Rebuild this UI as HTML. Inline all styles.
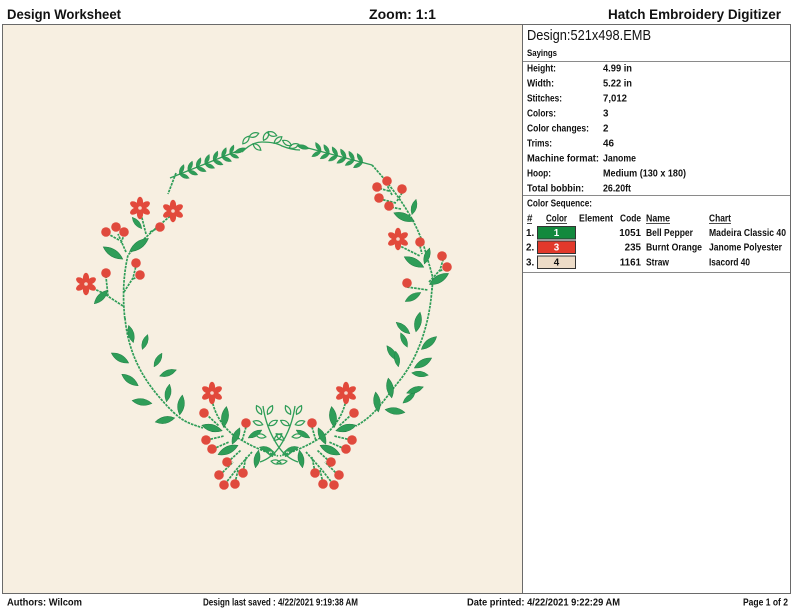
<!DOCTYPE html>
<html><head><meta charset="utf-8"><style>
html,body{margin:0;padding:0;background:#fff;width:794px;height:614px;overflow:hidden}
svg{display:block}
text{font-family:"Liberation Sans",Arial,sans-serif;fill:#111}
.b{font-weight:bold}
.s{font-size:9.8px;font-weight:bold}
.st{fill:none;stroke:#2f9d58;stroke-width:1.7;stroke-dasharray:2.6 1}
.ss{fill:none;stroke:#2f9d58;stroke-width:1.3}
</style></head><body>
<svg width="794" height="614" viewBox="0 0 794 614" xmlns="http://www.w3.org/2000/svg" xmlns:xlink="http://www.w3.org/1999/xlink">
<defs>
<path id="lf" d="M-10,0 Q0,-6.6 10,0 Q0,6.6 -10,0Z" fill="#2f9d58" stroke="#1f8045" stroke-width="0.5"/>
<path id="ol" d="M-5,0 Q0,-4.2 5,0 Q0,4.2 -5,0Z" fill="none" stroke="#2f9d58" stroke-width="1.2"/>
<g id="fl">
<ellipse cx="0" cy="-6" rx="3.1" ry="5.2" fill="#e2493b"/>
<ellipse cx="0" cy="-6" rx="3.1" ry="5.2" fill="#e2493b" transform="rotate(60)"/>
<ellipse cx="0" cy="-6" rx="3.1" ry="5.2" fill="#e2493b" transform="rotate(120)"/>
<ellipse cx="0" cy="-6" rx="3.1" ry="5.2" fill="#e2493b" transform="rotate(180)"/>
<ellipse cx="0" cy="-6" rx="3.1" ry="5.2" fill="#e2493b" transform="rotate(240)"/>
<ellipse cx="0" cy="-6" rx="3.1" ry="5.2" fill="#e2493b" transform="rotate(300)"/>
<circle r="1.8" fill="#f6d8cc"/>
</g>
<circle id="br" r="4.8" fill="#e04a3d"/>
</defs>

<!-- header -->
<text x="7" y="19" class="b" font-size="13.5" textLength="114" lengthAdjust="spacingAndGlyphs">Design Worksheet</text>
<text x="369" y="19" class="b" font-size="13.5" textLength="67" lengthAdjust="spacingAndGlyphs">Zoom:  1:1</text>
<text x="608" y="19" class="b" font-size="13.5" textLength="173" lengthAdjust="spacingAndGlyphs">Hatch Embroidery Digitizer</text>

<!-- frame -->
<rect x="3" y="25" width="519.5" height="568.5" fill="#f7efe1"/>
<rect x="2.5" y="24.5" width="788" height="569" fill="none" stroke="#6a6a6a" stroke-width="1"/>
<line x1="522.5" y1="24" x2="522.5" y2="594" stroke="#6a6a6a" stroke-width="1"/>
<line x1="523" y1="61.5" x2="790" y2="61.5" stroke="#8a8a8a" stroke-width="1"/>
<line x1="523" y1="195.5" x2="790" y2="195.5" stroke="#8a8a8a" stroke-width="1"/>
<line x1="523" y1="272.5" x2="790" y2="272.5" stroke="#8a8a8a" stroke-width="1"/>

<!-- right panel -->
<text x="527" y="40" font-size="14.5" textLength="124" lengthAdjust="spacingAndGlyphs">Design:521x498.EMB</text>
<text x="527" y="56" class="b" font-size="9.5" textLength="30" lengthAdjust="spacingAndGlyphs">Sayings</text>

<text x="527" y="71.5" class="s" textLength="29" lengthAdjust="spacingAndGlyphs">Height:</text>
<text x="527" y="86.5" class="s" textLength="27" lengthAdjust="spacingAndGlyphs">Width:</text>
<text x="527" y="101.5" class="s" textLength="35" lengthAdjust="spacingAndGlyphs">Stitches:</text>
<text x="527" y="116.5" class="s" textLength="29" lengthAdjust="spacingAndGlyphs">Colors:</text>
<text x="527" y="131.5" class="s" textLength="62" lengthAdjust="spacingAndGlyphs">Color changes:</text>
<text x="527" y="146.5" class="s" textLength="25" lengthAdjust="spacingAndGlyphs">Trims:</text>
<text x="527" y="161.5" class="s" textLength="72" lengthAdjust="spacingAndGlyphs">Machine format:</text>
<text x="527" y="176.5" class="s" textLength="24" lengthAdjust="spacingAndGlyphs">Hoop:</text>
<text x="527" y="191.5" class="s" textLength="57" lengthAdjust="spacingAndGlyphs">Total bobbin:</text>

<text x="603" y="71.5" class="s" textLength="29" lengthAdjust="spacingAndGlyphs">4.99 in</text>
<text x="603" y="86.5" class="s" textLength="29" lengthAdjust="spacingAndGlyphs">5.22 in</text>
<text x="603" y="101.5" class="s" textLength="24" lengthAdjust="spacingAndGlyphs">7,012</text>
<text x="603" y="116.5" class="s">3</text>
<text x="603" y="131.5" class="s">2</text>
<text x="603" y="146.5" class="s" textLength="11" lengthAdjust="spacingAndGlyphs">46</text>
<text x="603" y="161.5" class="s" textLength="33" lengthAdjust="spacingAndGlyphs">Janome</text>
<text x="603" y="176.5" class="s" textLength="83" lengthAdjust="spacingAndGlyphs">Medium (130 x 180)</text>
<text x="603" y="191.5" class="s" textLength="28" lengthAdjust="spacingAndGlyphs">26.20ft</text>

<text x="527" y="206.5" class="s" textLength="65" lengthAdjust="spacingAndGlyphs">Color Sequence:</text>
<text x="527" y="221.5" class="s">#</text>
<text x="546" y="221.5" class="s" textLength="21" lengthAdjust="spacingAndGlyphs">Color</text>
<text x="579" y="221.5" class="s" textLength="34" lengthAdjust="spacingAndGlyphs">Element</text>
<text x="620" y="221.5" class="s" textLength="21" lengthAdjust="spacingAndGlyphs">Code</text>
<text x="646" y="221.5" class="s" textLength="24" lengthAdjust="spacingAndGlyphs">Name</text>
<text x="709" y="221.5" class="s" textLength="22" lengthAdjust="spacingAndGlyphs">Chart</text>
<g stroke="#111" stroke-width="0.8">
<line x1="527" y1="223.5" x2="532" y2="223.5"/>
<line x1="546" y1="223.5" x2="567" y2="223.5"/>
<line x1="646" y1="223.5" x2="670" y2="223.5"/>
<line x1="709" y1="223.5" x2="731" y2="223.5"/>
</g>

<!-- color rows -->
<rect x="537.5" y="226.5" width="38" height="12.5" fill="#12893d" stroke="#333" stroke-width="1"/>
<rect x="537.5" y="241" width="38" height="12.5" fill="#e2392b" stroke="#333" stroke-width="1"/>
<rect x="537.5" y="256" width="38" height="12.5" fill="#eddcc8" stroke="#333" stroke-width="1"/>
<text x="556.5" y="236" class="s" text-anchor="middle" style="fill:#fff">1</text>
<text x="556.5" y="250.5" class="s" text-anchor="middle" style="fill:#fff">3</text>
<text x="556.5" y="265.5" class="s" text-anchor="middle">4</text>

<text x="526" y="236" class="s">1.</text>
<text x="526" y="250.5" class="s">2.</text>
<text x="526" y="265.5" class="s">3.</text>
<text x="641" y="236" class="s" text-anchor="end">1051</text>
<text x="641" y="250.5" class="s" text-anchor="end">235</text>
<text x="641" y="265.5" class="s" text-anchor="end">1161</text>
<text x="646" y="236" class="s" textLength="47" lengthAdjust="spacingAndGlyphs">Bell Pepper</text>
<text x="646" y="250.5" class="s" textLength="56" lengthAdjust="spacingAndGlyphs">Burnt Orange</text>
<text x="646" y="265.5" class="s" textLength="23" lengthAdjust="spacingAndGlyphs">Straw</text>
<text x="709" y="236" class="s" textLength="77" lengthAdjust="spacingAndGlyphs">Madeira Classic 40</text>
<text x="709" y="250.5" class="s" textLength="73" lengthAdjust="spacingAndGlyphs">Janome Polyester</text>
<text x="709" y="265.5" class="s" textLength="41" lengthAdjust="spacingAndGlyphs">Isacord 40</text>

<!-- footer -->
<text x="7" y="605.5" class="s" textLength="75" lengthAdjust="spacingAndGlyphs">Authors: Wilcom</text>
<text x="203" y="605.5" class="s" textLength="155" lengthAdjust="spacingAndGlyphs">Design last saved : 4/22/2021 9:19:38 AM</text>
<text x="467" y="605.5" class="s" textLength="153" lengthAdjust="spacingAndGlyphs">Date printed: 4/22/2021 9:22:29 AM</text>
<text x="743" y="605.5" class="s" textLength="45" lengthAdjust="spacingAndGlyphs">Page 1 of 2</text>

<!-- ===== WREATH ===== -->
<!-- left fern -->
<line x1="170" y1="178" x2="236" y2="151.5" stroke="#2f9d58" stroke-width="1.3"/>
<g>
<use href="#lf" transform="translate(181.7,169.5) rotate(-66.8) scale(0.55,0.6)"/>
<use href="#lf" transform="translate(184.3,176.1) rotate(23.2) scale(0.55,0.6)"/>
<use href="#lf" transform="translate(190.2,166.1) rotate(-66.8) scale(0.55,0.6)"/>
<use href="#lf" transform="translate(192.8,172.7) rotate(23.2) scale(0.55,0.6)"/>
<use href="#lf" transform="translate(198.6,162.7) rotate(-66.8) scale(0.55,0.6)"/>
<use href="#lf" transform="translate(201.2,169.3) rotate(23.2) scale(0.55,0.6)"/>
<use href="#lf" transform="translate(207.1,159.4) rotate(-66.8) scale(0.55,0.6)"/>
<use href="#lf" transform="translate(209.7,166) rotate(23.2) scale(0.55,0.6)"/>
<use href="#lf" transform="translate(215.5,156) rotate(-66.8) scale(0.55,0.6)"/>
<use href="#lf" transform="translate(218.1,162.6) rotate(23.2) scale(0.55,0.6)"/>
<use href="#lf" transform="translate(224,152.6) rotate(-66.8) scale(0.55,0.6)"/>
<use href="#lf" transform="translate(226.6,159.2) rotate(23.2) scale(0.55,0.6)"/>
<use href="#lf" transform="translate(231.8,149.5) rotate(-66.8) scale(0.5,0.55)"/>
<use href="#lf" transform="translate(234.4,156) rotate(23.2) scale(0.5,0.55)"/>
<use href="#lf" transform="translate(240,150.5) rotate(-21.8) scale(0.65)"/>
</g>
<!-- right fern -->
<line x1="372" y1="165" x2="306" y2="147.5" stroke="#2f9d58" stroke-width="1.3"/>
<g>
<use href="#lf" transform="translate(359.9,158.1) rotate(-120) scale(0.55,0.6)"/>
<use href="#lf" transform="translate(358.1,165) rotate(150) scale(0.55,0.6)"/>
<use href="#lf" transform="translate(351.6,155.9) rotate(-120) scale(0.55,0.6)"/>
<use href="#lf" transform="translate(349.8,162.7) rotate(150) scale(0.55,0.6)"/>
<use href="#lf" transform="translate(343.3,153.7) rotate(-120) scale(0.55,0.6)"/>
<use href="#lf" transform="translate(341.5,160.5) rotate(150) scale(0.55,0.6)"/>
<use href="#lf" transform="translate(334.9,151.5) rotate(-120) scale(0.55,0.6)"/>
<use href="#lf" transform="translate(333.1,158.3) rotate(150) scale(0.55,0.6)"/>
<use href="#lf" transform="translate(326.6,149.3) rotate(-120) scale(0.55,0.6)"/>
<use href="#lf" transform="translate(324.8,156.1) rotate(150) scale(0.55,0.6)"/>
<use href="#lf" transform="translate(318.3,147.1) rotate(-120) scale(0.55,0.6)"/>
<use href="#lf" transform="translate(316.5,153.9) rotate(150) scale(0.55,0.6)"/>
<use href="#lf" transform="translate(303,147) rotate(195) scale(0.65)"/>
</g>
<!-- top center sprigs (outline) -->
<path class="ss" d="M242,152 Q252,142 262,142 Q275,142 282,146 Q292,150 300,150" stroke-width="1"/>
<use href="#ol" transform="translate(246,140) rotate(-50)"/>
<use href="#ol" transform="translate(254,135) rotate(-20)"/>
<use href="#ol" transform="translate(257,147) rotate(40)"/>
<use href="#ol" transform="translate(266,136) rotate(-60)"/>
<use href="#ol" transform="translate(272,134) rotate(20)"/>
<use href="#ol" transform="translate(278,140) rotate(-40)"/>
<use href="#ol" transform="translate(287,143) rotate(30)"/>
<use href="#ol" transform="translate(294,146) rotate(-20)"/>

<!-- left upper branch -->
<path class="st" d="M176,173 L168,194"/>
<path class="st" d="M173,214 Q150,232 128,255 Q121,285 125,320"/>
<path class="st" d="M146,234 L141,214"/>
<path class="st" d="M126,252 L118,234"/>
<path class="st" d="M119,240 L108,234"/>
<path class="st" d="M121,243 L124,235"/>
<path class="st" d="M150,232 L158,228"/>
<path class="st" d="M124,292 L133,278 L136,266"/>
<path class="st" d="M133,279 L139,276"/>
<path class="st" d="M123,306 L103,293 L90,287"/>
<path class="st" d="M108,296 L106,277"/>
<use href="#lf" transform="translate(113,253) rotate(32) scale(1.15,1.1)"/>
<use href="#lf" transform="translate(139,245) rotate(-35) scale(1.15,1.1)"/>
<use href="#lf" transform="translate(137,223) rotate(50) scale(0.75)"/>
<use href="#lf" transform="translate(101,297) rotate(-45) scale(0.95)"/>
<use href="#br" x="106" y="232"/>
<use href="#br" x="116" y="227"/>
<use href="#br" x="124" y="232"/>
<use href="#br" x="160" y="227"/>
<use href="#br" x="136" y="263"/>
<use href="#br" x="140" y="275"/>
<use href="#br" x="106" y="273"/>
<use href="#fl" transform="translate(140,208)"/>
<use href="#fl" transform="translate(173,211)"/>
<use href="#fl" transform="translate(86,284)"/>

<!-- left lower leafy branch -->
<path class="st" d="M125,318 C128,350 140,375 160,398 S185,422 203,428"/>
<use href="#lf" transform="translate(131,334) rotate(75) scale(0.9)"/>
<use href="#lf" transform="translate(145,342) rotate(-70) scale(0.8)"/>
<use href="#lf" transform="translate(120,358) rotate(30)"/>
<use href="#lf" transform="translate(158,360) rotate(-60) scale(0.8)"/>
<use href="#lf" transform="translate(130,380) rotate(35)"/>
<use href="#lf" transform="translate(168,373) rotate(-20) scale(0.9)"/>
<use href="#lf" transform="translate(142,402) rotate(8)"/>
<use href="#lf" transform="translate(168,393) rotate(-80) scale(0.9)"/>
<use href="#lf" transform="translate(165,420) rotate(-12)"/>
<use href="#lf" transform="translate(181,405) rotate(-82)"/>

<!-- right upper branch -->
<path class="st" d="M372,165 C390,185 415,215 425,250 S433,275 432,290"/>
<path class="st" d="M392,195 L387,185"/>
<path class="st" d="M389,191 L378,188"/>
<path class="st" d="M397,201 L402,193"/>
<path class="st" d="M396,203 L380,199"/>
<path class="st" d="M401,209 L390,207"/>
<path class="st" d="M398,245 L420,256"/>
<path class="st" d="M420,246 L422,254"/>
<path class="st" d="M429,282 L440,270 L443,260"/>
<path class="st" d="M440,271 L447,267"/>
<path class="st" d="M407,287 L428,290"/>
<use href="#lf" transform="translate(404,217) rotate(22) scale(1.1)"/>
<use href="#lf" transform="translate(414,207) rotate(-75) scale(0.8)"/>
<use href="#lf" transform="translate(414,262) rotate(28) scale(1.1)"/>
<use href="#lf" transform="translate(427,256) rotate(-72) scale(0.85)"/>
<use href="#lf" transform="translate(439,279) rotate(-30) scale(1.1)"/>
<use href="#br" x="387" y="181"/>
<use href="#br" x="377" y="187"/>
<use href="#br" x="402" y="189"/>
<use href="#br" x="379" y="198"/>
<use href="#br" x="389" y="206"/>
<use href="#br" x="420" y="242"/>
<use href="#br" x="442" y="256"/>
<use href="#br" x="447" y="267"/>
<use href="#br" x="407" y="283"/>
<use href="#fl" transform="translate(398,239)"/>

<!-- right lower leafy branch -->
<path class="st" d="M432,288 C430,320 420,355 400,380 S375,415 356,426"/>
<use href="#lf" transform="translate(413,297) rotate(-30) scale(0.9)"/>
<use href="#lf" transform="translate(418,322) rotate(-78)"/>
<use href="#lf" transform="translate(403,328) rotate(40) scale(0.9)"/>
<use href="#lf" transform="translate(429,343) rotate(-40)"/>
<use href="#lf" transform="translate(404,340) rotate(65) scale(0.8)"/>
<use href="#lf" transform="translate(392,353) rotate(55) scale(0.9)"/>
<use href="#lf" transform="translate(423,363) rotate(-30)"/>
<use href="#lf" transform="translate(420,374) rotate(8) scale(0.85)"/>
<use href="#lf" transform="translate(397,359) rotate(80) scale(0.8)"/>
<use href="#lf" transform="translate(390,388) rotate(80)"/>
<use href="#lf" transform="translate(415,390) rotate(-20) scale(0.9)"/>
<use href="#lf" transform="translate(377,402) rotate(82)"/>
<use href="#lf" transform="translate(395,411) rotate(8)"/>
<use href="#lf" transform="translate(409,398) rotate(-40) scale(0.8)"/>

<!-- bottom left cluster (mirrored for right) -->
<g id="bc">
<path class="st" d="M212,400 Q216,420 232,434 Q252,448 278,456"/>
<path class="st" d="M206,414 L219,426"/>
<path class="st" d="M207,440 L224,436"/>
<path class="st" d="M213,449 L229,442"/>
<path class="st" d="M246,427 L242,441"/>
<path class="st" d="M228,462 L241,450"/>
<path class="st" d="M220,475 L233,462"/>
<path class="st" d="M225,484 L236,470 L252,452"/>
<path class="st" d="M235,483 L238,470"/>
<path class="st" d="M243,472 L246,457"/>
<use href="#lf" transform="translate(225,417) rotate(-82) scale(1.05)"/>
<use href="#lf" transform="translate(212,428) rotate(15) scale(1.05)"/>
<use href="#lf" transform="translate(236,436) rotate(-65) scale(0.9)"/>
<use href="#lf" transform="translate(228,450) rotate(-25) scale(1.1)"/>
<use href="#lf" transform="translate(255,434) rotate(-30) scale(0.8)"/>
<use href="#lf" transform="translate(257,459) rotate(-80) scale(0.9)"/>
<use href="#lf" transform="translate(266,449) rotate(15) scale(0.7)"/>
<use href="#br" x="204" y="413"/>
<use href="#br" x="206" y="440"/>
<use href="#br" x="212" y="449"/>
<use href="#br" x="246" y="423"/>
<use href="#br" x="227" y="462"/>
<use href="#br" x="219" y="475"/>
<use href="#br" x="224" y="485"/>
<use href="#br" x="235" y="484"/>
<use href="#br" x="243" y="473"/>
<use href="#fl" transform="translate(212,393)"/>
<!-- center outline sprig -->
<path class="ss" d="M263,406 Q266,428 278,446 Q286,458 298,462" stroke-width="1"/>
<use href="#ol" transform="translate(259,410) rotate(60)"/>
<use href="#ol" transform="translate(270,410) rotate(-60)"/>
<use href="#ol" transform="translate(258,423) rotate(20)"/>
<use href="#ol" transform="translate(273,423) rotate(-30)"/>
<use href="#ol" transform="translate(261,436) rotate(10)"/>
<use href="#ol" transform="translate(278,437) rotate(-40)"/>
<use href="#ol" transform="translate(270,452) rotate(60)"/>
<use href="#ol" transform="translate(288,452) rotate(-20)"/>
<use href="#ol" transform="translate(276,462) rotate(10)"/>
</g>
<use href="#bc" transform="translate(558,0) scale(-1,1)"/>
</svg>
</body></html>
